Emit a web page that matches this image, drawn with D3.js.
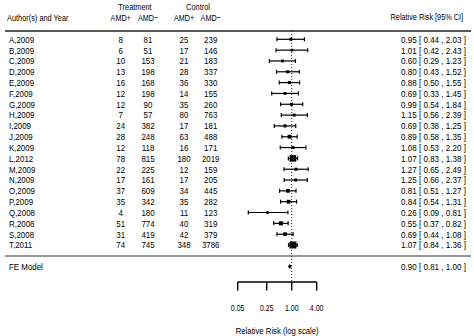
<!DOCTYPE html>
<html><head><meta charset="utf-8">
<script src="https://cdn.jsdelivr.net/npm/d3@7"></script>
<style>html,body{margin:0;padding:0;background:#fff;}svg{display:block;}</style>
</head><body>
<svg id="c" width="474" height="336"></svg>
<script>
const studies = ["A,2009","B,2009","C,2009","D,2009","E,2009","F,2009","G,2009","H,2009","I,2009","J,2009","K,2009","L,2012","M,2009","N,2009","O,2009","P,2009","Q,2008","R,2008","S,2008","T,2011"];
const tPos = [8,6,10,13,16,12,12,7,24,28,12,78,22,17,37,35,4,51,31,74];
const tNeg = [81,51,153,198,168,198,90,57,382,248,118,815,225,161,609,342,180,774,419,745];
const cPos = [25,17,21,28,36,14,35,80,17,63,16,180,12,17,34,35,11,40,42,348];
const cNeg = [239,146,183,337,330,155,260,763,181,488,171,2019,159,205,445,282,123,319,379,3786];
const rr = [0.95,1.01,0.60,0.80,0.88,0.69,0.99,1.15,0.69,0.89,1.08,1.07,1.27,1.25,0.81,0.84,0.26,0.55,0.69,1.07];
const lo = [0.44,0.42,0.29,0.43,0.50,0.33,0.54,0.56,0.38,0.58,0.53,0.83,0.65,0.66,0.51,0.54,0.09,0.37,0.44,0.84];
const hi = [2.03,2.43,1.23,1.52,1.55,1.45,1.84,2.39,1.25,1.35,2.20,1.38,2.49,2.37,1.27,1.31,0.81,0.82,1.08,1.36];
const feLabel = "FE Model";
const feEst = [0.90, 0.81, 1.00];
const ticks = [0.05, 0.25, 1.00, 4.00];
const headers = {author:"Author(s) and Year", treat:"Treatment", ctrl:"Control", pos:"AMD+", neg:"AMD\u2212", rr:"Relative Risk [95% CI]", axis:"Relative Risk (log scale)"};

const svg = d3.select("#c");
const FONT = "'Liberation Sans', Arial, sans-serif";
const FS = 9.5, K = 9 / 9.5;
const x = d3.scaleLog().domain([0.05, 4]).range([237.7, 316.7]);
const y = d3.scaleLinear().domain([0, studies.length - 1]).range([39.3, 245]);
const feY = 266.5;

function txt(s, px, py, anchor, sx, size, len) {
  const t = svg.append("text")
    .attr("transform", `translate(${px},${py}) scale(${sx * K},1)`)
    .attr("text-anchor", anchor)
    .attr("font-family", FONT)
    .attr("font-size", size || FS)
    .attr("fill", "#000")
    .text(s);
  if (len) t.attr("textLength", len / K).attr("lengthAdjust", "spacingAndGlyphs");
  return t;
}
const fmt = d3.format(".2f");
const ciStr = (e, l, h) => `${fmt(e)} [ ${fmt(l)} , ${fmt(h)} ]`;

// headers
txt(headers.treat, 135, 9.6, "middle", 0.82);
txt(headers.ctrl, 198, 9.6, "middle", 0.82);
txt(headers.author, 7, 20.5, "start", 0.82);
const colX = [120.7, 148, 184, 210.7];
txt(headers.pos, colX[0], 21, "middle", 0.8);
txt(headers.neg, colX[1], 21, "middle", 0.8);
txt(headers.pos, colX[2], 21, "middle", 0.8);
txt(headers.neg, colX[3], 21, "middle", 0.8);
txt(headers.rr, 463, 19.5, "end", 0.81);

// rules
svg.append("line").attr("x1", 5).attr("x2", 471).attr("y1", 31).attr("y2", 31).attr("stroke", "#222").attr("stroke-width", 1.6);
svg.append("line").attr("x1", 5).attr("x2", 471).attr("y1", 256).attr("y2", 256).attr("stroke", "#333").attr("stroke-width", 1.2);

// reference line
svg.append("line").attr("x1", x(1)).attr("x2", x(1)).attr("y1", 31).attr("y2", 282)
  .attr("stroke", "#222").attr("stroke-width", 1).attr("stroke-dasharray", "1,2");

// weights -> box size
const w = rr.map((d, i) => { const se = (Math.log(hi[i]) - Math.log(lo[i])) / 3.92; return 1 / (se * se); });
const size = d3.scaleLinear().domain(d3.extent(w)).range([2.6, 7]);

studies.forEach((s, i) => {
  const yy = y(i);
  txt(s, 9, yy + 3.4, "start", 0.88);
  txt(tPos[i], colX[0], yy + 3.4, "middle", 0.88);
  txt(tNeg[i], colX[1], yy + 3.4, "middle", 0.88);
  txt(cPos[i], colX[2], yy + 3.4, "middle", 0.88);
  txt(cNeg[i], colX[3], yy + 3.4, "middle", 0.88);
  txt(ciStr(rr[i], lo[i], hi[i]), 466, yy + 3.4, "end", 1, FS, 65);
  const g = svg.append("g").attr("stroke", "#000").attr("stroke-width", 1.2);
  g.append("line").attr("x1", x(lo[i])).attr("x2", x(hi[i])).attr("y1", yy).attr("y2", yy);
  g.append("line").attr("x1", x(lo[i])).attr("x2", x(lo[i])).attr("y1", yy - 2).attr("y2", yy + 2);
  g.append("line").attr("x1", x(hi[i])).attr("x2", x(hi[i])).attr("y1", yy - 2).attr("y2", yy + 2);
  const sz = size(w[i]);
  svg.append("rect").attr("x", x(rr[i]) - sz / 2).attr("y", yy - sz / 2).attr("width", sz).attr("height", sz).attr("fill", "#000");
});

// FE model
txt(feLabel, 9, feY + 3.4, "start", 0.88);
txt(ciStr(feEst[0], feEst[1], feEst[2]), 466, feY + 3.4, "end", 1, FS, 65);
svg.append("polygon")
  .attr("points", [[x(feEst[1]), feY], [x(feEst[0]), feY - 2.5], [x(feEst[2]), feY], [x(feEst[0]), feY + 2.5]].map(p => p.join(",")).join(" "))
  .attr("fill", "#000");

// axis
const axisG = svg.append("g").attr("stroke", "#000").attr("stroke-width", 1.4);
axisG.append("line").attr("x1", x(ticks[0])).attr("x2", x(ticks[ticks.length - 1])).attr("y1", 282).attr("y2", 282);
ticks.forEach(t => {
  axisG.append("line").attr("x1", x(t)).attr("x2", x(t)).attr("y1", 282).attr("y2", 290.5);
  txt(fmt(t), x(t), 310.5, "middle", 0.78);
});
txt(headers.axis, (x(ticks[0]) + x(ticks[ticks.length - 1])) / 2, 334, "middle", 0.86);
</script>
</body></html>
